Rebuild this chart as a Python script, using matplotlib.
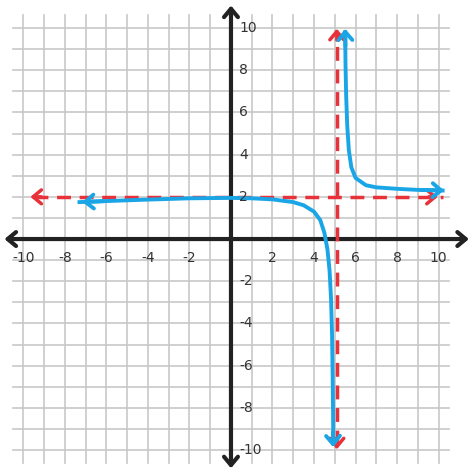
import matplotlib
matplotlib.use("Agg")
import matplotlib.pyplot as plt

left_x = [-7.3, -6, -4, -2, 0, 1, 2, 3, 3.5, 4, 4.3, 4.5, 4.65, 4.75, 4.82, 4.87, 4.9, 4.92, 4.93]
left_y = [1.75, 1.8, 1.87, 1.93, 1.95, 1.93, 1.88, 1.75, 1.6, 1.3, 0.9, 0.3, -0.5, -1.5, -2.8, -4.5, -6.5, -8.3, -9.6]
right_x = [5.5, 5.52, 5.55, 5.6, 5.68, 5.8, 6.0, 6.5, 7, 8, 9, 10.2]
right_y = [9.8, 8.2, 6.8, 5.4, 4.2, 3.4, 2.9, 2.55, 2.45, 2.38, 2.33, 2.3]
tick_vals = [-10, -8, -6, -4, -2, 2, 4, 6, 8, 10]

fig = plt.figure(figsize=(4.74, 4.73), dpi=100)
ax = fig.add_axes([0, 0, 1, 1])
ax.set_xlim(-11.13, 11.71)
ax.set_ylim(-11.09, 11.33)
ax.axis('off')

g = '#c8c8c8'
for v in range(-10, 11):
    ax.plot([v, v], [-10.6, 10.6], color=g, lw=1.2, zorder=1)
    ax.plot([-10.5, 10.5], [v, v], color=g, lw=1.2, zorder=1)

ax.annotate('', xy=(-11.05, 0), xytext=(11.6, 0), arrowprops=dict(arrowstyle='<->,head_length=0.6,head_width=0.5', color='#222222', lw=3))
ax.annotate('', xy=(0, -11.0), xytext=(0, 11.2), arrowprops=dict(arrowstyle='<->,head_length=0.6,head_width=0.5', color='#222222', lw=3))

red = '#e8323a'
ax.plot([-9.5, 10.2], [2, 2], color=red, lw=2.5, ls=(0, (4, 2.5)), zorder=3)
ax.plot([5.1, 5.1], [-9.7, 9.8], color=red, lw=2.5, ls=(0, (4, 2.5)), zorder=3)
for p, q in [((-9.8, 2), (-9.0, 2)), ((10.1, 2), (9.4, 2)), ((5.1, 10.1), (5.1, 9.3)), ((5.1, -10.1), (5.1, -9.3))]:
    ax.annotate('', xy=p, xytext=q, arrowprops=dict(arrowstyle='->,head_length=0.6,head_width=0.5', color=red, lw=2.5))

blue = '#1aa6e6'
ax.plot(left_x, left_y, color=blue, lw=2.8, zorder=4)
ax.plot(right_x, right_y, color=blue, lw=2.8, zorder=4)
for p, q in [((left_x[0], left_y[0]), (left_x[1], left_y[1])), ((left_x[-1], -10.0), (left_x[-1] - 0.02, -9.0)),
             ((right_x[0], 10.1), (right_x[0] + 0.02, 9.0)), ((right_x[-1] + 0.2, right_y[-1]), (right_x[-2], right_y[-2]))]:
    ax.annotate('', xy=p, xytext=q, arrowprops=dict(arrowstyle='->,head_length=0.6,head_width=0.5', color=blue, lw=2.8), zorder=5)

for t in tick_vals:
    ax.text(t, -0.55, str(t), ha='center', va='top', fontsize=10, color='#333333', zorder=6)
    ax.text(0.4, t, str(t), ha='left', va='center', fontsize=10, color='#333333', zorder=6)

fig.savefig('out.png', dpi=100)
